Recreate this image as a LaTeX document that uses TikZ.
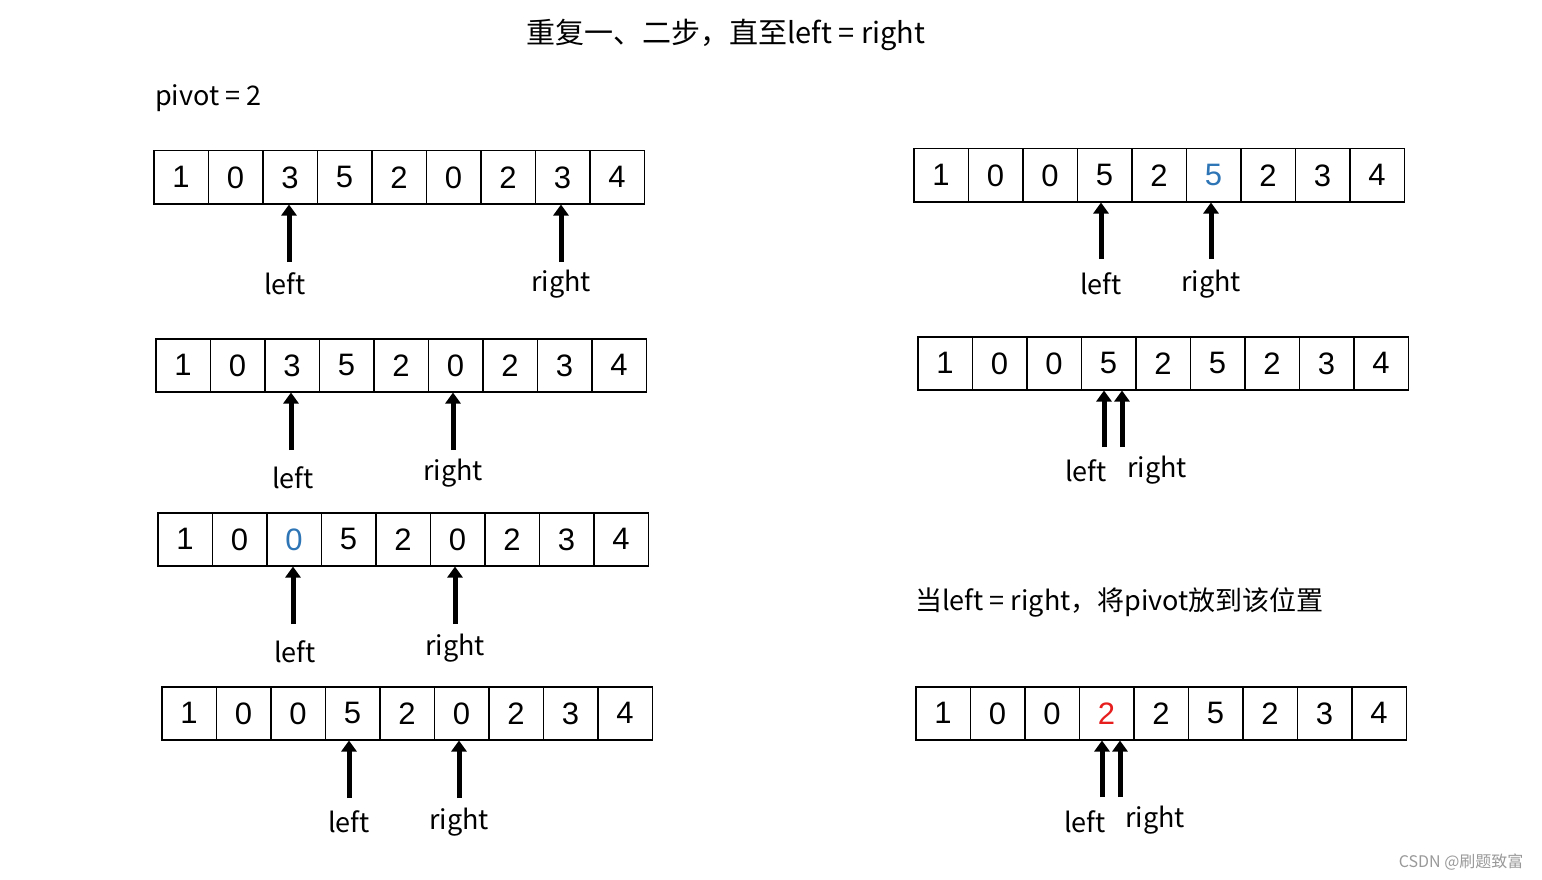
\documentclass[tikz,border=0pt]{standalone}
\usepackage{fontspec}
\setmainfont{Liberation Sans}
\newfontfamily\cjk{Noto Sans CJK SC}
\usetikzlibrary{positioning,arrows.meta}
\tikzset{
	cell/.style={draw,line width=1.5pt,minimum width=54.5pt,minimum height=53pt,
		inner sep=0pt,anchor=north west,font=\fontsize{31}{31}\selectfont,text depth=0pt},
	ptr/.style={line width=5pt,-{Triangle[length=11pt,width=15pt]}},
	lbl/.style={font=\cjk\fontsize{27}{27}\selectfont,inner sep=0pt},
}
% row of cells: name, x, y, digits
\newcommand{\cellrow}[4]{%
	\foreach \d [count=\i] in {#4}{
		\node[cell] (#1\i) at ({#2+(\i-1)*54.5},#3) {\d};
	}
}
\begin{document}
\begin{tikzpicture}[x=1pt,y=-1pt]
	\useasboundingbox (0,0) rectangle (1542,880);

	\node[lbl,font=\cjk\fontsize{29}{29}\selectfont] (title) at (726,35) {重复一、二步，直至left = right};
	\node[lbl,anchor=west] (piv) at (155,98) {pivot = 2};

	% left column
	\cellrow{a}{153}{150}{1,0,3,5,2,0,2,3,4}
	\coordinate (a1l) at (289,262); \coordinate (a1r) at (561,262);
	\draw[ptr] (a1l) -- (a3.south -| a1l);
	\draw[ptr] (a1r) -- (a8.south -| a1r);
	\node[lbl] (al) at (285,284) {left};
	\node[lbl] (ar) at (561,284) {right};

	\cellrow{b}{155}{338}{1,0,3,5,2,0,2,3,4}
	\coordinate (b1l) at (291,450); \coordinate (b1r) at (453,450);
	\draw[ptr] (b1l) -- (b3.south -| b1l);
	\draw[ptr] (b1r) -- (b6.south -| b1r);
	\node[lbl] (bl) at (293,478) {left};
	\node[lbl] (br) at (453,473) {right};

	\cellrow{c}{157}{512}{1,0,{\color[RGB]{46,117,182}0},5,2,0,2,3,4}
	\coordinate (c1l) at (293,624); \coordinate (c1r) at (455,624);
	\draw[ptr] (c1l) -- (c3.south -| c1l);
	\draw[ptr] (c1r) -- (c6.south -| c1r);
	\node[lbl] (cl) at (295,652) {left};
	\node[lbl] (cr) at (455,648) {right};

	\cellrow{d}{161}{686}{1,0,0,5,2,0,2,3,4}
	\coordinate (d1l) at (349,798); \coordinate (d1r) at (459,798);
	\draw[ptr] (d1l) -- (d4.south -| d1l);
	\draw[ptr] (d1r) -- (d6.south -| d1r);
	\node[lbl] (dl) at (349,822) {left};
	\node[lbl] (dr) at (459,822) {right};

	% right column
	\cellrow{e}{913}{148}{1,0,0,5,2,{\color[RGB]{46,117,182}5},2,3,4}
	\coordinate (e1l) at (1101,259); \coordinate (e1r) at (1211,259);
	\draw[ptr] (e1l) -- (e4.south -| e1l);
	\draw[ptr] (e1r) -- (e6.south -| e1r);
	\node[lbl] (el) at (1101,284) {left};
	\node[lbl] (er) at (1211,284) {right};

	\cellrow{f}{917}{336}{1,0,0,5,2,5,2,3,4}
	\coordinate (f1l) at (1104,447); \coordinate (f1r) at (1122,447);
	\draw[ptr] (f1l) -- (f4.south -| f1l);
	\draw[ptr] (f1r) -- (f4.south -| f1r);
	\node[lbl] (fl) at (1086,471) {left};
	\node[lbl] (fr) at (1157,470) {right};

	\node[lbl,anchor=west] (note) at (915,602) {当left = right，将pivot放到该位置};

	\cellrow{g}{915}{686}{1,0,0,{\color[RGB]{230,30,30}2},2,5,2,3,4}
	\coordinate (g1l) at (1102,797); \coordinate (g1r) at (1120,797);
	\draw[ptr] (g1l) -- (g4.south -| g1l);
	\draw[ptr] (g1r) -- (g4.south -| g1r);
	\node[lbl] (gl) at (1085,822) {left};
	\node[lbl] (gr) at (1155,820) {right};

	\node[anchor=east,text=black!40,font=\cjk\fontsize{16}{16}\selectfont] (mark) at (1527,862) {CSDN @刷题致富};
\end{tikzpicture}
\end{document}
